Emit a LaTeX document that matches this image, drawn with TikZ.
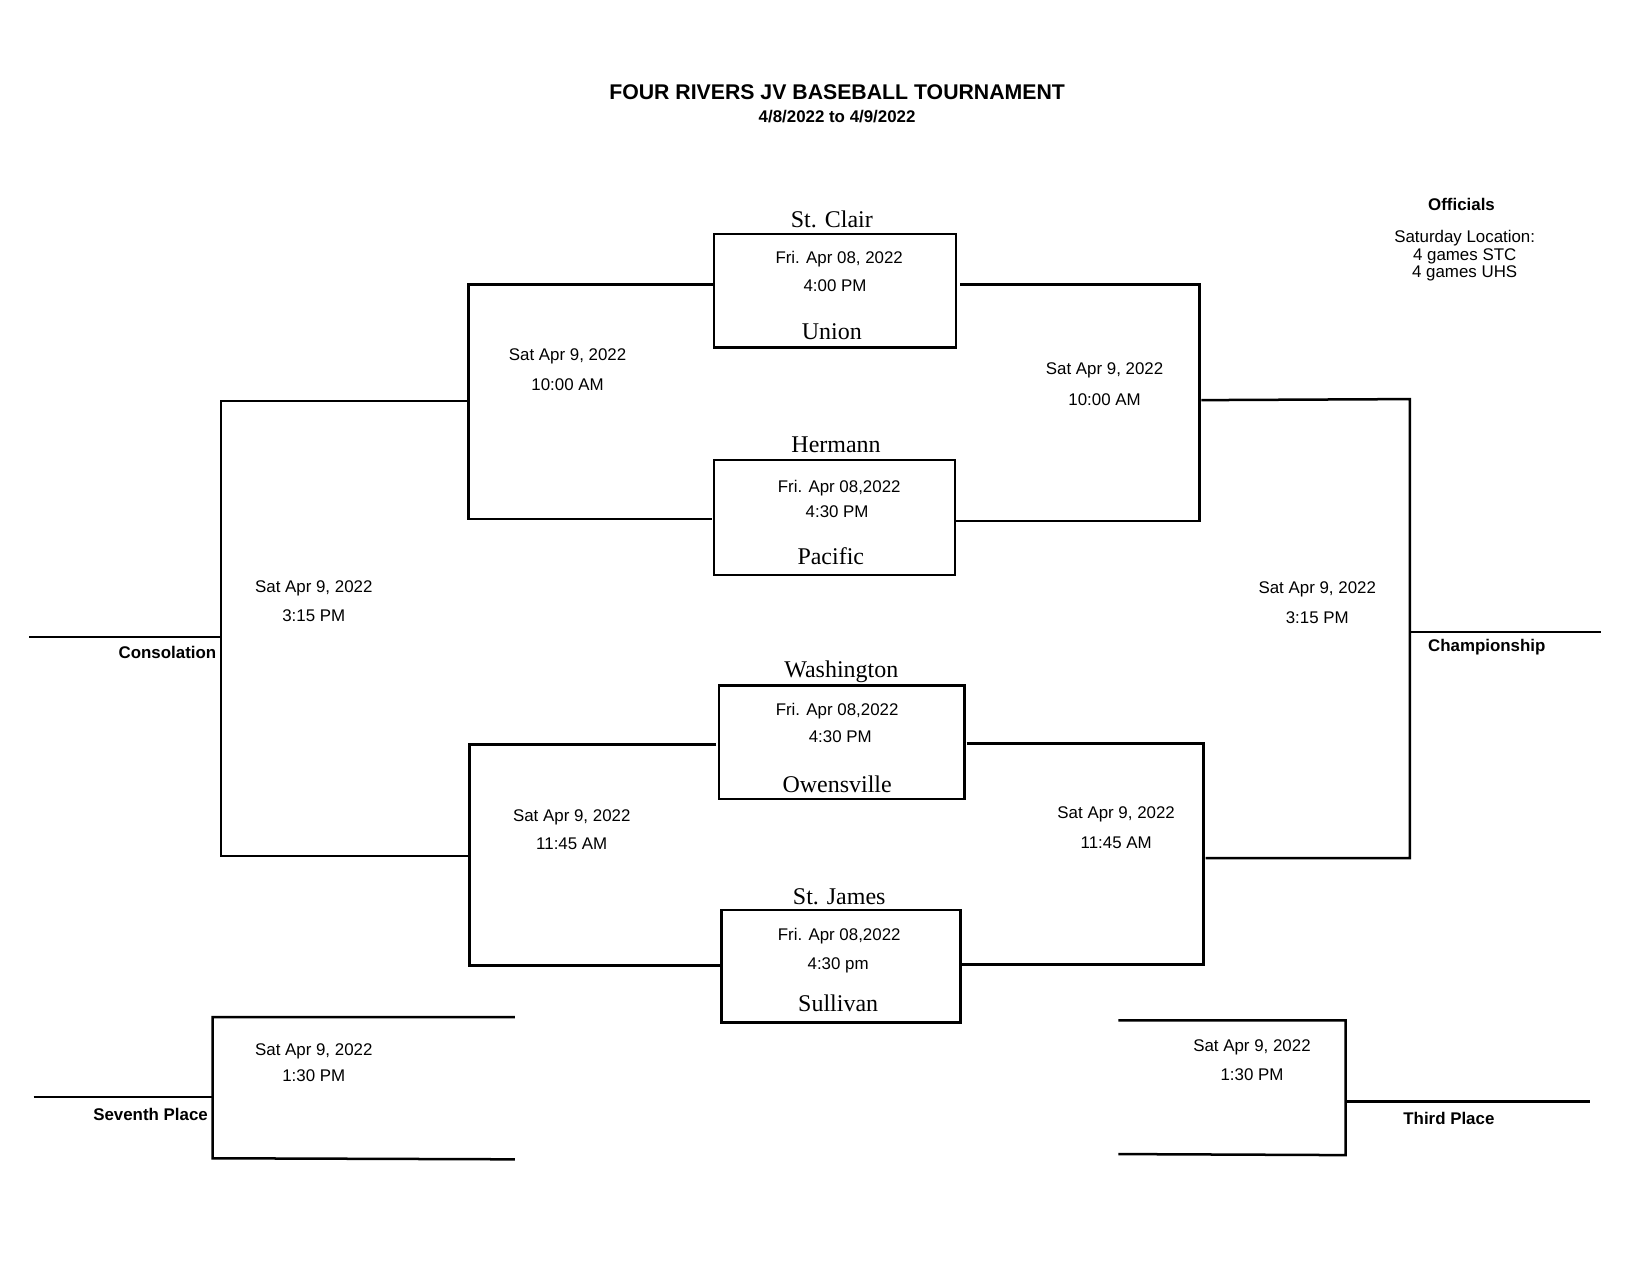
\documentclass[tikz,border=0pt]{standalone}
\usepackage{fontspec}
\setmainfont{Liberation Sans}
\newfontfamily\tn{Liberation Serif}
\begin{document}
\begin{tikzpicture}[x=0.505pt,y=-0.505pt,
 ln/.style={line width=1.2pt},
 t/.style={font=\fontsize{8.1}{9.5}\selectfont,inner sep=0pt},
 b/.style={font=\bfseries\fontsize{8.1}{9.5}\selectfont,inner sep=0pt},
 nm/.style={font=\tn\fontsize{11.5}{13}\selectfont,inner sep=0pt}]
\useasboundingbox (0,0) rectangle (1567,1211);
\node[font=\bfseries\fontsize{10.2}{12}\selectfont] (title) at (795,88) {FOUR RIVERS JV BASEBALL TOURNAMENT};
\node[b] (dates) at (795,111) {4/8/2022 to 4/9/2022};
\node[b] (off) at (1388,194) {Officials};
\node[t,align=center] (loc) at (1391,243) {Saturday Location:\\[-1pt]4 games STC\\[-1pt]4 games UHS};
% boxes
\draw[ln] (678,222) rectangle (908,330);
\draw[ln] (678,437) rectangle (907,546);
\draw[ln] (683,651) rectangle (916,759);
\draw[ln] (685,864) rectangle (912,971);
\node[nm] (sc) at (790,208) {St. Clair};
\node[t] (d1) at (797,246) {Fri. Apr 08, 2022};
\node[t] (t1) at (793,271) {4:00 PM};
\node[nm] (un) at (790,315) {Union};
\node[nm] (he) at (794,422) {Hermann};
\node[t] (d2) at (797,464) {Fri. Apr 08,2022};
\node[t] (t2) at (795,486) {4:30 PM};
\node[nm] (pa) at (789,528) {Pacific};
\node[nm] (wa) at (799,638) {Washington};
\node[t] (d3) at (795,675) {Fri. Apr 08,2022};
\node[t] (t3) at (798,700) {4:30 PM};
\node[nm] (ow) at (795,745) {Owensville};
\node[nm] (sj) at (797,852) {St. James};
\node[t] (d4) at (797,889) {Fri. Apr 08,2022};
\node[t] (t4) at (796,917) {4:30 pm};
\node[nm] (su) at (796,953) {Sullivan};
% brackets
\coordinate (a1) at (445,270); \coordinate (a2) at (445,493);
\draw[ln] (678,270) -- (a1) -- (a2) -- (676,493);
\draw[ln] (912,270) -- (1139,270) -- (1139,495) -- (908,495);
\draw[ln] (680,707) -- (446,707) -- (446,917) -- (685,917);
\draw[ln] (918,706) -- (1143,706) -- (1143,916) -- (912,916);
\draw[ln] (445,381) -- (210,381) -- (210,813) -- (446,813);
\draw[ln] (1141,380) -- (1339,379) -- (1339,815) -- (1145,815);
\draw[ln] (28,605) -- (210,605);
\draw[ln] (1339,600) -- (1520,600);
\draw[ln] (489,966) -- (202,966) -- (202,1100) -- (489,1101);
\draw[ln] (32,1042) -- (202,1042);
\draw[ln] (1062,969) -- (1278,969) -- (1278,1097) -- (1062,1096);
\draw[ln] (1278,1046) -- (1510,1046);
% round labels
\node[t] (s1) at (539,338) {Sat Apr 9, 2022}; \node[t] (s1t) at (539,365) {10:00 AM};
\node[t] (s2) at (1049,352) {Sat Apr 9, 2022}; \node[t] (s2t) at (1049,380) {10:00 AM};
\node[t] (s3) at (543,776) {Sat Apr 9, 2022}; \node[t] (s3t) at (543,801) {11:45 AM};
\node[t] (s4) at (1060,773) {Sat Apr 9, 2022}; \node[t] (s4t) at (1060,800) {11:45 AM};
\node[t] (s5) at (298,559) {Sat Apr 9, 2022}; \node[t] (s5t) at (298,585) {3:15 PM};
\node[t] (s6) at (1251,560) {Sat Apr 9, 2022}; \node[t] (s6t) at (1251,587) {3:15 PM};
\node[t] (s7) at (298,998) {Sat Apr 9, 2022}; \node[t] (s7t) at (298,1022) {1:30 PM};
\node[t] (s8) at (1189,995) {Sat Apr 9, 2022}; \node[t] (s8t) at (1189,1021) {1:30 PM};
\node[b] (cons) at (159,620) {Consolation};
\node[b] (champ) at (1412,615) {Championship};
\node[b] (sev) at (143,1058) {Seventh Place};
\node[b] (third) at (1376,1062) {Third Place};
\end{tikzpicture}
\end{document}
